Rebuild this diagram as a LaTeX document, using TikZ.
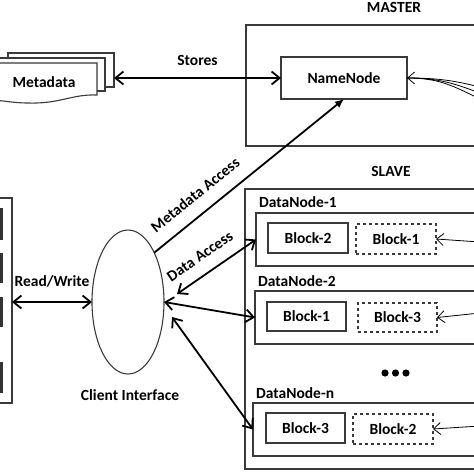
\documentclass[tikz,border=0pt]{standalone}
\usepackage{fontspec}
\setmainfont{Carlito}
\usetikzlibrary{arrows.meta,shapes.geometric}
\definecolor{boxgray}{HTML}{3A3A3A}
\definecolor{slotgray}{HTML}{333333}
\begin{document}
\begin{tikzpicture}[x=1pt,y=-1pt,
  font=\fontsize{15.5}{18}\selectfont\bfseries,
  box/.style={draw=boxgray, line width=1.1pt, inner sep=0pt, outer sep=0pt, anchor=north west},
  dbox/.style={box, dashed},
  lbl/.style={inner sep=0pt},
  link/.style={line width=1.8pt, {Straight Barb[length=8pt,width=13pt]}-{Straight Barb[length=8pt,width=13pt]}},
  feed/.style={line width=0.8pt, -{Straight Barb[length=7pt,width=12pt]}},
]
\useasboundingbox (0,0) rectangle (474,474);
\clip (0,0) rectangle (474,474);

% Metadata stack
\node[box, fill=white, minimum width=106pt, minimum height=34pt] (metaback) at (8,53) {};
\node[box, fill=white, minimum width=108pt, minimum height=33pt] (metamid) at (-3,58) {};
\draw[draw=boxgray, line width=1.1pt, fill=white]
  (-12,63) -- (97,63) -- (97,95) .. controls (72,94) and (60,104) .. (28,103)
  .. controls (12,103) and (2,100) .. (-12,100) -- cycle;
\node[lbl] (meta) at (44,82) {Metadata};

% Master
\node[lbl] (mastert) at (394,7) {MASTER};
\node[box, minimum width=250pt, minimum height=121pt] (master) at (246,25) {};
\node[box, minimum width=126pt, minimum height=42pt] (namenode) at (281,57) {};
\node[lbl] at (namenode.center) {NameNode};

% Slave
\node[lbl] (slavet) at (391,171) {SLAVE};
\node[box, minimum width=250pt, minimum height=280pt] (slave) at (245,189) {};

\node[lbl, anchor=west] (dn1t) at (259,202) {DataNode-1};
\node[box, minimum width=240pt, minimum height=53pt] (dn1) at (256,213) {};
\node[box, minimum width=80pt, minimum height=30pt] (b12) at (268,223) {Block-2};
\node[dbox, minimum width=80pt, minimum height=30pt] (b11) at (356,224) {Block-1};

\node[lbl, anchor=west] (dn2t) at (258,281) {DataNode-2};
\node[box, minimum width=240pt, minimum height=53pt] (dn2) at (255,291) {};
\node[box, minimum width=79pt, minimum height=29pt] (b21) at (267,302) {Block-1};
\node[dbox, minimum width=79pt, minimum height=29pt] (b23) at (358,303) {Block-3};

\fill (385,373) circle (3.6pt) (395.5,373) circle (3.6pt) (406,373) circle (3.6pt);

\node[lbl, anchor=west] (dnnt) at (256,393) {DataNode-n};
\node[box, minimum width=240pt, minimum height=53pt] (dnn) at (253,403) {};
\node[box, minimum width=79pt, minimum height=30pt] (bn3) at (266,413) {Block-3};
\node[dbox, minimum width=80pt, minimum height=30pt] (bn2) at (353,414) {Block-2};

% Storage at left
\node[box, minimum width=32pt, minimum height=205pt] (store) at (-20,198) {};
\fill[slotgray] (-5,208) rectangle (3,240);
\fill[slotgray] (-5,253) rectangle (3,283);
\fill[slotgray] (-5,297) rectangle (3,327);
\fill[slotgray] (-5,362) rectangle (3,393);

% Client interface
\node[draw=boxgray, line width=1.1pt, ellipse, minimum width=72pt, minimum height=144pt,
  inner sep=0pt, outer sep=0pt] (client) at (128,302) {};
\node[lbl] (clientt) at (130,395) {Client Interface};

% Coordinates for free ends
\coordinate (da) at (177,294);
\coordinate (dnx) at (172,317);
\coordinate (f1) at (480,242);
\coordinate (f2) at (480,313);
\coordinate (f3) at (480,426);
\coordinate (g1) at (480,87);
\coordinate (g2) at (480,93);
\coordinate (g3) at (480,99);

% Connectors
\draw[link] (namenode.west -| metaback.east) -- node[lbl, above=11pt] (stores) {Stores} (namenode.west);
\draw[link] (client.west -| store.east) -- node[lbl, above=14pt] (rw) {Read/Write} (client.west);
\draw[line width=1.8pt, -{Latex[length=9pt,width=8pt]}] (client.62) --
  node[lbl, sloped, pos=.28, above=13pt] (mat) {Metadata Access} (namenode.south);
\draw[link] (da) -- node[lbl, sloped, pos=.42, above=12pt] (dat) {Data Access} (dn1.west);
\draw[link] (client.east) -- (dn2.west);
\draw[link] (dnx) -- (dnn.west);

\draw[feed] (f1) -- (b11.east);
\draw[feed] (f2) -- (b23.east);
\draw[feed] (f3) -- (bn2.east);

\draw[line width=0.8pt] (g1) .. controls (455,81) and (440,78) .. (namenode.east);
\draw[line width=0.8pt] (g2) .. controls (455,84) and (440,78) .. (namenode.east);
\draw[feed] (g3) .. controls (455,87) and (440,78) .. (namenode.east);
\end{tikzpicture}
\end{document}
